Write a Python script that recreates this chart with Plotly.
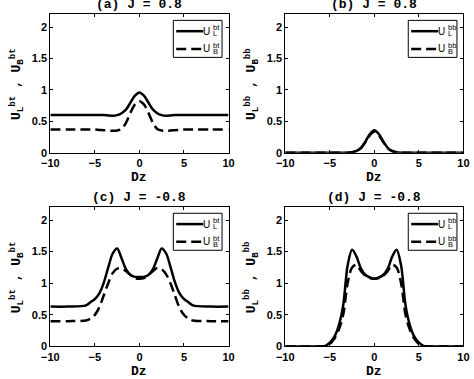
import plotly.graph_objects as go

# ---- data ----
x_pts = [-10, -8, -6, -5.5, -5, -4.5, -4, -3.5, -3, -2.5, -2, -1.5, -1, -0.5, 0,
         0.5, 1, 1.5, 2, 2.5, 3, 3.5, 4, 4.5, 5, 5.5, 6, 8, 10]

# (a) J = 0.8 : U_L^bt, U_B^bt
a_L = [0.60, 0.60, 0.60, 0.60, 0.60, 0.60, 0.60, 0.595, 0.59, 0.60, 0.63, 0.69, 0.80, 0.91, 0.96,
       0.91, 0.80, 0.69, 0.63, 0.60, 0.59, 0.595, 0.60, 0.60, 0.60, 0.60, 0.60, 0.60, 0.60]
a_B = [0.37, 0.37, 0.37, 0.37, 0.37, 0.365, 0.36, 0.355, 0.35, 0.355, 0.38, 0.48, 0.64, 0.77, 0.82,
       0.77, 0.64, 0.48, 0.38, 0.355, 0.35, 0.355, 0.36, 0.365, 0.37, 0.37, 0.37, 0.37, 0.37]
# (b) J = 0.8 : U_L^bb, U_B^bb
b_L = [0, 0, 0, 0, 0, 0, 0, 0, 0.003, 0.01, 0.03, 0.08, 0.18, 0.30, 0.36,
       0.30, 0.18, 0.08, 0.03, 0.01, 0.003, 0, 0, 0, 0, 0, 0, 0, 0]
b_B = [0, 0, 0, 0, 0, 0, 0, 0, 0.002, 0.008, 0.025, 0.075, 0.17, 0.28, 0.34,
       0.28, 0.17, 0.075, 0.025, 0.008, 0.002, 0, 0, 0, 0, 0, 0, 0, 0]
# (c) J = -0.8 : U_L^bt, U_B^bt
c_L = [0.63, 0.63, 0.65, 0.70, 0.75, 0.84, 1.01, 1.25, 1.47, 1.55, 1.39, 1.22, 1.13, 1.10, 1.10,
       1.10, 1.13, 1.22, 1.39, 1.55, 1.47, 1.25, 1.01, 0.84, 0.75, 0.70, 0.65, 0.63, 0.63]
c_B = [0.40, 0.40, 0.41, 0.44, 0.50, 0.62, 0.81, 1.00, 1.16, 1.23, 1.23, 1.19, 1.13, 1.08, 1.07,
       1.08, 1.13, 1.19, 1.24, 1.22, 1.14, 0.99, 0.80, 0.61, 0.50, 0.44, 0.41, 0.40, 0.40]
# (d) J = -0.8 : U_L^bb, U_B^bb
d_L = [0, 0, 0, 0.01, 0.06, 0.15, 0.33, 0.65, 1.28, 1.53, 1.42, 1.23, 1.13, 1.09, 1.07,
       1.09, 1.13, 1.23, 1.42, 1.53, 1.28, 0.65, 0.33, 0.15, 0.06, 0.01, 0, 0, 0]
d_B = [0, 0, 0, 0.005, 0.04, 0.12, 0.26, 0.50, 1.00, 1.25, 1.29, 1.19, 1.12, 1.08, 1.07,
       1.08, 1.12, 1.19, 1.29, 1.25, 1.00, 0.50, 0.26, 0.12, 0.04, 0.005, 0, 0, 0]

titles = ["(a) J = 0.8", "(b) J = 0.8", "(c) J = -0.8", "(d) J = -0.8"]
sups = ["bt", "bb", "bt", "bb"]
subs = ["L", "B"]
x_ticks = [-10, -5, 0, 5, 10]
y_ticks = [0, 0.5, 1, 1.5, 2]
y_tick_text = ["0", "0.5", "1", "1.5", "2"]

W, H = 474, 379
# axes boxes in pixels (left, right, top, bottom)
boxes = [(42.7, 226.7, 14.7, 155.3), (285.3, 469.3, 14.7, 155.3),
         (42.7, 226.7, 210.7, 352.0), (285.3, 469.3, 210.7, 352.0)]
series = [(a_L, a_B), (b_L, b_B), (c_L, c_B), (d_L, d_B)]
DASH = "10px,5px"

fig = go.Figure()
mono = "Liberation Mono"
sans = "Liberation Sans"


def px(x):
    return x / W


def py(y):
    return 1 - y / H


shapes = []
for i, ((L, B), (l, r, t, b)) in enumerate(zip(series, boxes)):
    n = "" if i == 0 else str(i + 1)
    s = sups[i]
    fig.add_trace(go.Scatter(x=x_pts, y=L, mode="lines", showlegend=False,
                             line=dict(color="black", width=2.5, shape="spline", smoothing=0.9),
                             name=f"U_L^{s}", xaxis="x" + n, yaxis="y" + n))
    fig.add_trace(go.Scatter(x=x_pts, y=B, mode="lines", showlegend=False,
                             line=dict(color="black", width=2.5, dash=DASH, shape="spline", smoothing=0.9),
                             name=f"U_B^{s}", xaxis="x" + n, yaxis="y" + n))
    common = dict(showline=True, linecolor="black", linewidth=1, mirror="ticks", ticks="inside",
                  ticklen=3, tickcolor="black", showgrid=False, zeroline=False,
                  tickfont=dict(family=sans, size=11, color="black", weight="bold"))
    fig.layout["xaxis" + n] = dict(domain=[px(l), px(r)], range=[-10, 10], tickvals=x_ticks,
                                   anchor="y" + n, **common)
    fig.layout["yaxis" + n] = dict(domain=[py(b), py(t)], range=[0, 2.2], tickvals=y_ticks,
                                   ticktext=y_tick_text, anchor="x" + n, **common)
    cx = (l + r) / 2
    fig.add_annotation(x=px(cx), y=py(t - 10), xref="paper", yref="paper",
                       text=f"<b>{titles[i]}</b>", showarrow=False,
                       font=dict(family=mono, size=13, color="black"), xanchor="center", yanchor="middle")
    fig.add_annotation(x=px(cx), y=py(b + 25), xref="paper", yref="paper", text="<b>Dz</b>",
                       showarrow=False, font=dict(family=mono, size=13, color="black"),
                       xanchor="center", yanchor="middle")
    fig.add_annotation(x=px(l - 35), y=py((t + b) / 2), xref="paper", yref="paper", textangle=-90,
                       text=f"<b>U<sub>L</sub><sup>{s}</sup> , U<sub>B</sub><sup>{s}</sup></b>",
                       showarrow=False, font=dict(family=mono, size=13, color="black"),
                       xanchor="center", yanchor="middle")
    # legend box (drawn as decoration in paper coordinates)
    shapes.append(dict(type="rect", xref="paper", yref="paper", x0=px(r - 57), x1=px(r - 6.7),
                       y0=py(t + 43.6), y1=py(t + 6), line=dict(color="black", width=1),
                       fillcolor="white", layer="above"))
    for k, (dy, dash) in enumerate([(17, "solid"), (35, DASH)]):
        shapes.append(dict(type="line", xref="paper", yref="paper", x0=px(r - 54), x1=px(r - 26),
                           y0=py(t + dy), y1=py(t + dy), line=dict(color="black", width=2.5, dash=dash),
                           layer="above"))
        fig.add_annotation(x=px(r - 23), y=py(t + dy), xref="paper", yref="paper", text="U",
                           showarrow=False, font=dict(family=sans, size=10, color="black"),
                           xanchor="center", yanchor="middle")
        fig.add_annotation(x=px(r - 18), y=py(t + dy - 3.6), xref="paper", yref="paper", text=s,
                           showarrow=False, font=dict(family=sans, size=7.5, color="black"),
                           xanchor="left", yanchor="middle")
        fig.add_annotation(x=px(r - 18), y=py(t + dy + 2.8), xref="paper", yref="paper", text=subs[k],
                           showarrow=False, font=dict(family=sans, size=7.5, color="black"),
                           xanchor="left", yanchor="middle")

fig.update_layout(width=W, height=H, margin=dict(l=0, r=0, t=0, b=0), plot_bgcolor="white",
                  paper_bgcolor="white", showlegend=False, shapes=shapes)
fig.write_html("out.html", config={"displayModeBar": False},
               post_script="document.body.style.margin='0';")
